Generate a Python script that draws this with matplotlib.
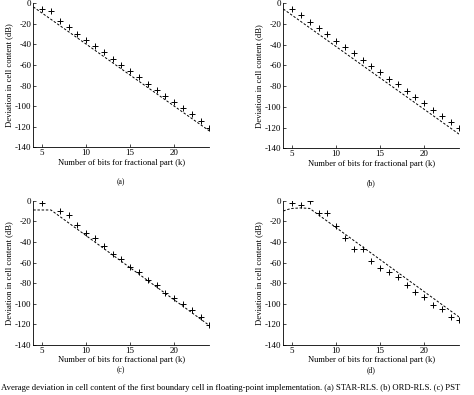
import numpy as np
import matplotlib.pyplot as plt

plt.rcParams["font.family"] = "Liberation Serif"
plt.rcParams["font.size"] = 6
plt.rcParams["axes.unicode_minus"] = False

bits = np.arange(5, 25)

# (a) STAR-RLS
dev_a = [-5.8, -7.4, -16.8, -23, -30, -35.8, -41.3, -47.4, -54, -59.7,
         -65.5, -71.6, -78.4, -83.9, -89.7, -95.8, -102, -108, -114.5, -121.3]
line_a_k = [4, 24]
line_a_v = [-3.5, -124]

# (b) ORD-RLS
dev_b = [-5.4, -11.2, -17.9, -24, -29.8, -36.2, -42.3, -48, -54.5, -60.3,
         -66.7, -72.8, -78.2, -84.6, -90.4, -96.5, -102.6, -108.7, -115, -120.5]
line_b_k = [4, 24]
line_b_v = [-5.5, -126.5]

# (c) PSTAR-RLS
bits_c = [5, 7, 8, 9, 10, 11, 12, 13, 14, 15, 16, 17, 18, 19, 20, 21, 22, 23, 24]
dev_c = [-2.6, -9.7, -13.9, -23.3, -31.7, -36.6, -44, -52, -57, -64.4,
         -69, -77, -81.9, -90, -94.8, -100.6, -106, -112.6, -120.7]
line_c_k = [4, 5, 6, 24]
line_c_v = [-9, -9, -9, -121]

# (d)
dev_d = [-2.6, -4.2, 0, -12.3, -11.7, -24.6, -36, -46.6, -47.2, -58.3,
         -65, -69, -73.8, -81.9, -88.7, -93.9, -101.6, -104.9, -112.6, -115.9]
line_d_k = [4, 4.5, 5, 6, 7, 24]
line_d_v = [-10, -8.5, -7.5, -7, -7.5, -113]

panels = [
    (bits, dev_a, line_a_k, line_a_v, "(a)"),
    (bits, dev_b, line_b_k, line_b_v, "(b)"),
    (bits_c, dev_c, line_c_k, line_c_v, "(c)"),
    (bits, dev_d, line_d_k, line_d_v, "(d)"),
]

W, H = 474, 395
fig = plt.figure(figsize=(W / 100, H / 100), dpi=100)

# axes boxes in pixels: left, top, right, bottom, caption y
boxes = [(33.3, 3.3, 209.3, 147.3, 182),
         (283.3, 3.3, 459.3, 148.3, 183),
         (33.3, 200.7, 209.3, 345, 370),
         (283.3, 200.7, 459.3, 345, 370)]

for (k, dev, lk, lv, tag), (x0, y0, x1, y1, yc) in zip(panels, boxes):
    ax = fig.add_axes([x0 / W, 1 - y1 / H, (x1 - x0) / W, (y1 - y0) / H])
    ax.plot(lk, lv, color="black", linestyle=(0, (2.5, 1.8)), linewidth=0.7)
    ax.plot(k, dev, linestyle="none", marker="+", color="black",
            markersize=4.5, markeredgewidth=0.7)
    ax.set_xlim(4, 24)
    ax.set_ylim(-140, 0)
    ax.set_xticks([5, 10, 15, 20])
    ax.set_yticks(np.arange(-140, 1, 20))
    ax.spines["top"].set_visible(False)
    ax.spines["right"].set_visible(False)
    ax.spines["left"].set_linewidth(0.6)
    ax.spines["bottom"].set_linewidth(0.6)
    ax.tick_params(direction="in", length=2, width=0.5, pad=1.5, labelsize=6.5)
    ax.set_xlabel("Number of bits for fractional part (k)", fontsize=6.1, labelpad=1)
    ax.set_ylabel("Deviation in cell content (dB)", fontsize=6.2, labelpad=1)
    fig.text((x0 + x1) / 2 / W, 1 - yc / H, tag, ha="center", va="center",
             fontsize=5.5)

fig.text(1 / W, 1 - 388 / H,
         "Average deviation in cell content of the first boundary cell in "
         "floating-point implementation. (a) STAR-RLS. (b) ORD-RLS. (c) PST",
         ha="left", va="center", fontsize=6.2)

fig.savefig("out.png", dpi=100)
